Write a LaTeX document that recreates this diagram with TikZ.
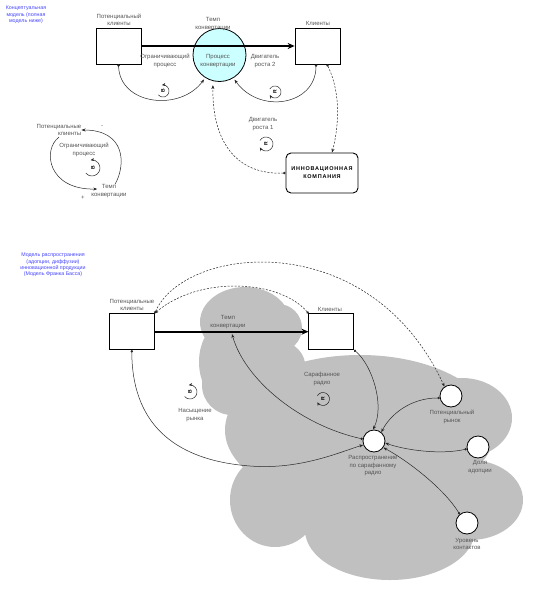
\documentclass[tikz,border=0pt]{standalone}
\usepackage{fontspec}
\setmainfont{Liberation Sans}
\usetikzlibrary{arrows.meta,calc}
\definecolor{txtgray}{RGB}{85,85,85}
\definecolor{ttlblue}{RGB}{70,70,255}
\definecolor{cloudgray}{RGB}{192,192,192}
\definecolor{proccyan}{RGB}{204,255,255}
\definecolor{linegray}{RGB}{40,40,40}
\begin{document}
\begin{tikzpicture}[x=1pt,y=-1pt,
 lbl/.style={text=txtgray, font=\fontsize{6}{7.5}\selectfont, align=center, inner sep=0pt},
 ttl/.style={text=ttlblue, font=\fontsize{5.3}{6.3}\selectfont, align=center, inner sep=0pt},
 stock/.style={draw, line width=0.7pt, fill=white, minimum width=45pt, minimum height=36pt, inner sep=0pt},
 aux/.style={circle, draw, line width=0.8pt, fill=white, minimum size=22pt, inner sep=0pt},
 link/.style={draw=linegray, line width=0.5pt, {Circle[length=2.4pt]}-{Stealth[length=4pt,width=3pt]}},
 dlink/.style={link, dash pattern=on 2pt off 1.5pt},
 plink/.style={draw=linegray, line width=0.5pt, -{Stealth[length=4pt,width=3pt]}},
 flow/.style={line width=1.8pt, -{Stealth[length=7pt,width=6pt]}},
 loopc/.style={draw=linegray, line width=0.5pt, -{Stealth[length=3.5pt,width=3pt]}},
 loopl/.style={font=\fontsize{5}{5}\selectfont\bfseries, text=black, inner sep=0pt, rotate=90}
]
\fill[white] (0,0) rectangle (543,600);
\useasboundingbox (0,0) rectangle (543,600);

% ---------- top: conceptual model ----------
\node[ttl] (t1) at (26,15) {Концептуальная\\модель (полная\\модель ниже)};

\node[circle, draw, line width=0.8pt, fill=proccyan, minimum size=53pt, inner sep=0pt] (proc) at (219.5,55) {};
\node[lbl] (procl) at (218,61) {Процесс\\конвертации};
\node[stock] (pk1) at (118.5,46) {};
\node[lbl] (pk1l) at (119,20) {Потенциальный\\клиенты};
\node[stock] (k1) at (317.5,46) {};
\node[lbl] (k1l) at (318,23) {Клиенты};
\node[lbl] (rate1l) at (213,24) {Темп\\конвертации};
\draw[flow] (pk1.east) -- (k1.west);

\node[lbl] (ogr1) at (165,61) {Ограничивающий\\процесс};
\node[lbl] (dv2) at (265,61) {Двигатель\\роста 2};
\node[lbl] (dv1) at (263,124) {Двигатель\\роста 1};

\draw[loopc] (163,91) ++(220:6pt) arc[start angle=220, end angle=460, radius=6pt];
\node[loopl] (lb1) at (163,91) {B};
\draw[loopc] (275,92) ++(150:6pt) arc[start angle=150, end angle=-150, radius=6pt];
\node[loopl] (lr1) at (275,92) {R};
\draw[loopc] (266,144) ++(150:7pt) arc[start angle=150, end angle=-150, radius=7pt];
\node[loopl] (lr2) at (266,144) {R};

\node[draw, rounded corners=5pt, line width=0.9pt, minimum width=72pt, minimum height=40pt, inner sep=0pt,
      font=\fontsize{5.5}{8}\selectfont\bfseries\addfontfeature{LetterSpace=14}, align=center] (inn) at (322,173) {ИННОВАЦИОННАЯ\\КОМПАНИЯ};

\draw[link, shorten >=2pt] (pk1.south) .. controls (120,105) and (180,112) .. (proc.238);
\draw[link, shorten >=2pt] ($(k1.south)+(-1.5,0)$) .. controls (316,105) and (260,115) .. (proc.-59);
\draw[dlink] ($(k1.south)+(9.5,0)$) .. controls (342,95) and (338,130) .. ($(inn.north)+(10,0)$);
\draw[dlink, shorten >=4pt] (inn.west) .. controls (235,175) and (212,140) .. (proc.256);

% ---------- small loop diagram ----------
\node[lbl, align=right] (spk) at (59,130) {Потенциальные\\клиенты};
\node[lbl] (sogr) at (84,150) {Ограничивающий\\процесс};
\node[lbl] (stemp) at (109,191) {Темп\\конвертации};
\node[lbl] (sminus) at (102,127) {-};
\node[lbl] (splus) at (83,198) {+};
\draw[loopc] (92,168) ++(220:8pt) arc[start angle=220, end angle=460, radius=8pt];
\node[loopl] (slb) at (93,168) {B};
\draw[plink] ($(spk.south)+(0,1)$) .. controls (42,150) and (48,190) .. ($(stemp.west)+(6,-2)$);
\draw[plink] ($(stemp.north)+(6,0)$) .. controls (126,165) and (126,130) .. (spk.east);

% ---------- bottom: Bass model ----------
\node[ttl] (t2) at (53,265) {Модель распространения\\(адопции, диффузии)\\инновационной продукции\\(Модель Франка Басса)};

\fill[cloudgray]
  (245,322) ellipse[x radius=45pt, y radius=35pt]
  (278,328) circle[radius=24pt]
  (226,362) ellipse[x radius=27pt, y radius=40pt]
  (265,365) ellipse[x radius=40pt, y radius=28pt]
  (232,385) circle[radius=30pt]
  (360,430) ellipse[x radius=135pt, y radius=75pt]
  (462,418) ellipse[x radius=50pt, y radius=40pt]
  (470,500) ellipse[x radius=53pt, y radius=40pt]
  (390,530) ellipse[x radius=85pt, y radius=50pt]
  (275,500) ellipse[x radius=45pt, y radius=47pt];

\node[stock] (pk2) at (131.8,331.7) {};
\node[lbl] (pk2l) at (132,305) {Потенциальные\\клиенты};
\node[stock] (k2) at (331.3,331.7) {};
\node[lbl] (k2l) at (330,309) {Клиенты};
\draw[flow] (pk2.east) -- (k2.west);
\node[lbl] (rate2l) at (228,322) {Темп\\конвертации};
\coordinate (rate2) at (232,334);

\node[lbl] (sar) at (322,379) {Сарафанное\\радио};
\draw[loopc] (323,399) ++(150:6.5pt) arc[start angle=150, end angle=-150, radius=6.5pt];
\node[loopl] (lr3) at (323,399) {R};
\node[lbl] (nas) at (195,415) {Насыщение\\рынка};
\draw[loopc] (190,392) ++(220:7pt) arc[start angle=220, end angle=460, radius=7pt];
\node[loopl] (lb3) at (190,392) {B};

\node[aux] (rs) at (374,441) {};
\node[lbl] (rsl) at (373,466) {Распространение\\по сарафанному\\радио};
\node[aux] (pm) at (451,396) {};
\node[lbl] (pml) at (452,417) {Потенциальный\\рынок};
\node[aux] (da) at (478,447) {};
\node[lbl] (dal) at (480,467) {Доля\\адопции};
\node[aux] (uk) at (467,523) {};
\node[lbl] (ukl) at (467,544) {Уровень\\контактов};

\draw[dlink] (k2.north west) .. controls (280,280) and (200,275) .. (pk2.north east);
\draw[dlink] (pk2.north east) .. controls (185,245) and (370,225) .. (pm.125);
\draw[link] (pk2.south) .. controls (132,420) and (170,460) .. (250,466) .. controls (300,470) and (340,452) .. (rs.200);
\draw[link] (rs.170) .. controls (300,425) and (245,380) .. (rate2);
\draw[link] (k2.south east) .. controls (372,365) and (385,405) .. (rs.95);
\draw[link] (pm.190) .. controls (410,398) and (390,415) .. (rs.50);
\draw[link] (da.190) .. controls (440,455) and (405,450) .. (rs.-10);
\draw[link] (uk.130) .. controls (445,490) and (410,462) .. (rs.-35);
\end{tikzpicture}
\end{document}
